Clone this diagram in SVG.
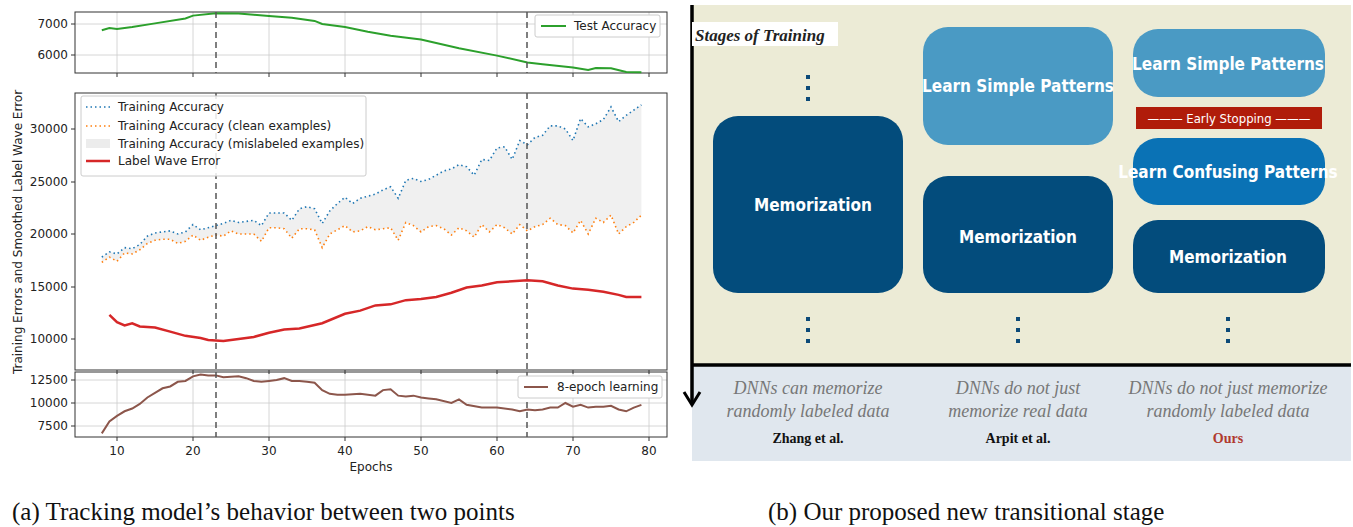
<svg xmlns="http://www.w3.org/2000/svg" width="1353" height="527" viewBox="0 0 1353 527">
<style>
.ax{fill:none;stroke:#333;stroke-width:1}
.g{stroke:#ccc;stroke-width:0.8}
.t{font-family:"DejaVu Sans",sans-serif;font-size:12px;fill:#222}
.tr{font-family:"DejaVu Sans",sans-serif;font-size:12px;fill:#222;text-anchor:end}
.d{stroke:#555;stroke-width:1.5;stroke-dasharray:6 4}
.ln{fill:none;vector-effect:non-scaling-stroke}
.bx{font-family:"DejaVu Sans",sans-serif;font-weight:bold;font-stretch:condensed;font-size:17px;fill:#fff;text-anchor:middle}
.it{font-family:"Liberation Serif",serif;font-style:italic;font-size:18px;fill:#777;text-anchor:middle}
.nm{font-family:"Liberation Serif",serif;font-weight:bold;font-size:14px;text-anchor:middle}
.cap{font-family:"Liberation Serif",serif;font-size:25px;fill:#111}
.dot{fill:#0c4a78}
</style>
<rect width="1353" height="527" fill="#fff"/>
<g id="plots">
<!-- gridlines -->
<g class="g">
<path d="M117 12V73M193 12V73M269 12V73M345 12V73M421 12V73M497 12V73M573 12V73M649 12V73M75 24H667M75 55H667"/>
<path d="M117 372V437M193 372V437M269 372V437M345 372V437M421 372V437M497 372V437M573 372V437M649 372V437M75 380H667M75 403H667M75 426H667"/>
</g>
<rect class="ax" x="75" y="12" width="592" height="61"/>
<rect class="ax" x="75" y="93" width="592" height="277"/>
<rect class="ax" x="75" y="372" width="592" height="65"/>
<g stroke="#333"><path d="M117 73v4M193 73v4M269 73v4M345 73v4M421 73v4M497 73v4M573 73v4M649 73v4M117 370v4M193 370v4M269 370v4M345 370v4M421 370v4M497 370v4M573 370v4M649 370v4M117 437v4M193 437v4M269 437v4M345 437v4M421 437v4M497 437v4M573 437v4M649 437v4M75 24h-4M75 55h-4M75 129h-4M75 182h-4M75 234h-4M75 287h-4M75 339h-4M75 380h-4M75 403h-4M75 426h-4"/></g>
<g class="tr"><text x="68" y="28">7000</text><text x="68" y="59">6000</text>
<text x="68" y="133">30000</text><text x="68" y="186">25000</text><text x="68" y="238">20000</text><text x="68" y="291">15000</text><text x="68" y="343">10000</text>
<text x="68" y="384">12500</text><text x="68" y="407">10000</text><text x="68" y="430">7500</text></g>
<g class="t" text-anchor="middle"><text x="117" y="455">10</text><text x="193" y="455">20</text><text x="269" y="455">30</text><text x="345" y="455">40</text><text x="421" y="455">50</text><text x="497" y="455">60</text><text x="573" y="455">70</text><text x="649" y="455">80</text>
<text x="371" y="471">Epochs</text>
<text transform="translate(22 232) rotate(-90)">Training Errors and Smoothed Label Wave Error</text></g>
<!-- middle data -->
<g transform="matrix(7.6 0 0 -0.0105 41 444)">
<polygon fill="#ececec" opacity="0.8" points="8,17800 9,18300 10,18100 11,18700 12,18600 13,19000 14,19800 15,20100 16,20200 17,20300 18,20000 19,20200 20,20900 21,20400 22,20600 23,20800 24,21000 25,21300 26,21100 27,21200 28,21300 29,20800 30,22000 31,22000 32,22000 33,21300 34,22400 35,22600 36,22400 37,21000 38,22200 39,22900 40,23500 41,22900 42,23400 43,23600 44,23800 45,24200 46,24500 47,23400 48,25100 49,25300 50,25000 51,25200 52,25600 53,26000 54,26200 55,26600 56,26400 57,25600 58,27100 59,27000 60,28200 61,28300 62,27100 63,28900 64,28500 65,29200 66,29400 67,30300 68,30300 69,30000 70,28900 71,31000 72,30200 73,30500 74,30900 75,32100 76,30700 77,31300 78,31800 79,32300 79,21800 78,21100 77,20700 76,20000 75,21800 74,21100 73,21500 72,20000 71,21300 70,20100 69,20800 68,20900 67,21500 66,20900 65,20700 64,20300 63,20900 62,20000 61,20600 60,20900 59,20200 58,20900 57,19700 56,20300 55,20600 54,19900 53,20500 52,20800 51,20700 50,20200 49,20800 48,21100 47,19400 46,20600 45,20500 44,20400 43,20700 42,20300 41,20200 40,20800 39,20400 38,20000 37,18700 36,20400 35,20500 34,20500 33,19600 32,20500 31,20600 30,20600 29,19300 28,20000 27,20000 26,20000 25,20300 24,19800 23,19900 22,19700 21,19400 20,19900 19,19300 18,19100 17,19500 16,19500 15,19400 14,19100 13,18500 12,18100 11,18200 10,17400 9,17800 8,17300"/>
<polyline class="ln" stroke="#1f77b4" stroke-width="1.6" stroke-dasharray="1.5 3" points="8,17800 9,18300 10,18100 11,18700 12,18600 13,19000 14,19800 15,20100 16,20200 17,20300 18,20000 19,20200 20,20900 21,20400 22,20600 23,20800 24,21000 25,21300 26,21100 27,21200 28,21300 29,20800 30,22000 31,22000 32,22000 33,21300 34,22400 35,22600 36,22400 37,21000 38,22200 39,22900 40,23500 41,22900 42,23400 43,23600 44,23800 45,24200 46,24500 47,23400 48,25100 49,25300 50,25000 51,25200 52,25600 53,26000 54,26200 55,26600 56,26400 57,25600 58,27100 59,27000 60,28200 61,28300 62,27100 63,28900 64,28500 65,29200 66,29400 67,30300 68,30300 69,30000 70,28900 71,31000 72,30200 73,30500 74,30900 75,32100 76,30700 77,31300 78,31800 79,32300"/>
<polyline class="ln" stroke="#ff7f0e" stroke-width="1.6" stroke-dasharray="1.5 3" points="8,17300 9,17800 10,17400 11,18200 12,18100 13,18500 14,19100 15,19400 16,19500 17,19500 18,19100 19,19300 20,19900 21,19400 22,19700 23,19900 24,19800 25,20300 26,20000 27,20000 28,20000 29,19300 30,20600 31,20600 32,20500 33,19600 34,20500 35,20500 36,20400 37,18700 38,20000 39,20400 40,20800 41,20200 42,20300 43,20700 44,20400 45,20500 46,20600 47,19400 48,21100 49,20800 50,20200 51,20700 52,20800 53,20500 54,19900 55,20600 56,20300 57,19700 58,20900 59,20200 60,20900 61,20600 62,20000 63,20900 64,20300 65,20700 66,20900 67,21500 68,20900 69,20800 70,20100 71,21300 72,20000 73,21500 74,21100 75,21800 76,20000 77,20700 78,21100 79,21800"/>
<polyline class="ln" stroke="#d62728" stroke-width="2.5" points="9,12300 10,11600 11,11300 12,11500 13,11200 15,11100 17,10700 19,10300 21,10100 22,9900 24,9800 26,10000 28,10200 30,10600 32,10900 34,11000 37,11500 40,12400 42,12700 44,13200 46,13300 48,13700 50,13800 52,14000 54,14400 56,14900 58,15100 60,15400 62,15500 64,15600 66,15500 68,15100 70,14800 72,14700 74,14500 76,14200 77,14000 79,14000"/>
</g>
<g transform="matrix(7.6 0 0 -0.031 41 241)">
<polyline class="ln" stroke="#2ca02c" stroke-width="2" points="8,6800 9,6870 10,6840 12,6900 15,7020 19,7180 20,7270 23,7350 26,7340 28,7300 30,7260 33,7200 36,7100 37,7000 40,6900 43,6750 46,6620 50,6500 55,6220 60,5980 64,5760 66,5700 70,5600 72,5520 73,5580 75,5570 77,5450 79,5440"/>
</g>
<g transform="matrix(7.6 0 0 -0.0092 41 495)">
<polyline class="ln" stroke="#8c564b" stroke-width="2" points="8,6700 9,8000 10,8600 11,9100 12,9400 13,9900 14,10600 15,11100 16,11600 17,11800 18,12300 19,12400 20,12900 21,13100 22,13000 23,13000 24,12800 26,12900 27,12700 28,12400 29,12300 30,12400 31,12500 32,12700 33,12400 34,12400 35,12300 36,12200 37,11400 38,11000 39,10900 40,10900 42,11000 44,10800 45,11400 46,11500 47,10800 48,10700 49,10800 50,10600 51,10500 52,10400 54,10000 55,10400 56,9800 58,9500 60,9500 62,9300 63,9100 64,9300 65,9200 66,9300 67,9500 68,9500 69,10000 70,9600 71,9800 72,9500 73,9600 74,9600 75,9700 76,9300 77,9100 78,9500 79,9800"/>
</g>
<path class="d" d="M216 12V73M216 93V370M216 372V437M527 12V73M527 93V370M527 372V437"/>
<!-- legends -->
<rect x="535" y="15" width="125" height="22" rx="2" fill="#fff" stroke="#ccc"/>
<line x1="541" y1="26" x2="566" y2="26" stroke="#2ca02c" stroke-width="2"/>
<text class="t" x="574" y="30">Test Accuracy</text>
<rect x="81" y="96" width="285" height="80" rx="2" fill="#fff" fill-opacity="0.85" stroke="#ccc"/>
<line x1="86" y1="107" x2="110" y2="107" stroke="#1f77b4" stroke-width="1.6" stroke-dasharray="1.5 3"/>
<line x1="86" y1="126" x2="110" y2="126" stroke="#ff7f0e" stroke-width="1.6" stroke-dasharray="1.5 3"/>
<rect x="86" y="139" width="24" height="9" fill="#ececec"/>
<line x1="86" y1="161" x2="110" y2="161" stroke="#d62728" stroke-width="2.5"/>
<g class="t"><text x="118" y="111">Training Accuracy</text><text x="118" y="130">Training Accuracy (clean examples)</text><text x="118" y="148">Training Accuracy (mislabeled examples)</text><text x="118" y="165">Label Wave Error</text></g>
<rect x="518" y="376" width="144" height="22" rx="2" fill="#fff" stroke="#ccc"/>
<line x1="524" y1="387" x2="548" y2="387" stroke="#8c564b" stroke-width="2"/>
<text class="t" x="557" y="391">8-epoch learning</text>
</g>
<text class="cap" x="12" y="520">(a) Tracking model’s behavior between two points</text>
<text class="cap" x="768" y="520">(b) Our proposed new transitional stage</text>
<g id="panel">
<rect x="692" y="5" width="659" height="361" fill="#ecebd6"/>
<rect x="692" y="366" width="659" height="95" fill="#e0e7ee"/>
<line x1="691" y1="365" x2="1351" y2="365" stroke="#000" stroke-width="3.5"/>
<line x1="692" y1="5" x2="692" y2="402" stroke="#000" stroke-width="3.5"/>
<path d="M684 392L692 405L700 392" fill="none" stroke="#000" stroke-width="3"/>
<rect x="692" y="22" width="146" height="24" fill="#fff"/>
<text x="695" y="41" font-family="Liberation Serif,serif" font-style="italic" font-weight="bold" font-size="17" fill="#222">Stages of Training</text>
</g>
<g id="n1"><rect x="713" y="116" width="190" height="177" rx="25" fill="#034c7c"/><text class="bx" x="813" y="211">Memorization</text></g>
<g id="n2"><rect x="923" y="27" width="190" height="118" rx="25" fill="#4a9ac4"/><text class="bx" x="1018" y="92">Learn Simple Patterns</text></g>
<g id="n3"><rect x="923" y="176" width="190" height="117" rx="25" fill="#034c7c"/><text class="bx" x="1018" y="243">Memorization</text></g>
<g id="n4"><rect x="1133" y="29" width="192" height="68" rx="25" fill="#4a9ac4"/><text class="bx" x="1228" y="70">Learn Simple Patterns</text></g>
<g id="n5"><rect x="1136" y="107" width="186" height="22" fill="#b01c0a"/><text x="1229" y="123" font-family="DejaVu Sans,sans-serif" font-stretch="condensed" font-size="13" fill="#fff" text-anchor="middle">——— Early Stopping ———</text></g>
<g id="n6"><rect x="1133" y="138" width="192" height="67" rx="25" fill="#0a72b5"/><text class="bx" x="1228" y="178">Learn Confusing Patterns</text></g>
<g id="n7"><rect x="1133" y="220" width="192" height="73" rx="25" fill="#034c7c"/><text class="bx" x="1228" y="263">Memorization</text></g>
<g id="dots">
<rect class="dot" x="806" y="75" width="4" height="4"/><rect class="dot" x="806" y="86" width="4" height="4"/><rect class="dot" x="806" y="97" width="4" height="4"/>
<rect class="dot" x="806" y="317" width="4" height="4"/><rect class="dot" x="806" y="328" width="4" height="4"/><rect class="dot" x="806" y="339" width="4" height="4"/>
<rect class="dot" x="1016" y="317" width="4" height="4"/><rect class="dot" x="1016" y="328" width="4" height="4"/><rect class="dot" x="1016" y="339" width="4" height="4"/>
<rect class="dot" x="1226" y="317" width="4" height="4"/><rect class="dot" x="1226" y="328" width="4" height="4"/><rect class="dot" x="1226" y="339" width="4" height="4"/>
</g>
<g id="labels">
<text class="it" x="808" y="394">DNNs can memorize</text><text class="it" x="808" y="417">randomly labeled data</text><text class="nm" x="808" y="443" fill="#111">Zhang et al.</text>
<text class="it" x="1018" y="394">DNNs do not just</text><text class="it" x="1018" y="417">memorize real data</text><text class="nm" x="1018" y="443" fill="#111">Arpit et al.</text>
<text class="it" x="1228" y="394">DNNs do not just memorize</text><text class="it" x="1228" y="417">randomly labeled data</text><text class="nm" x="1228" y="443" fill="#b03a2e">Ours</text>
</g>
</svg>
